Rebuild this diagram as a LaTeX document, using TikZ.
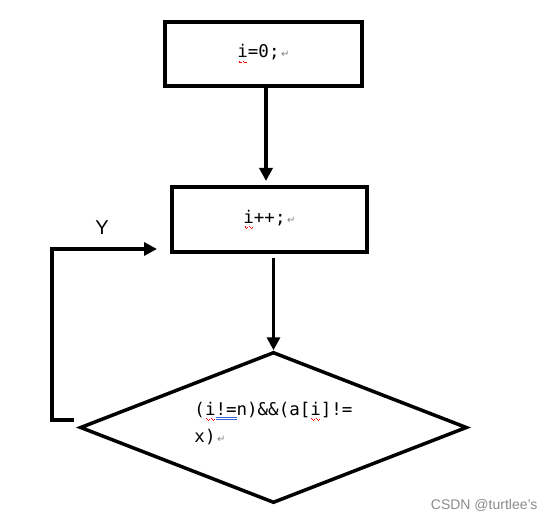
\documentclass[tikz,border=0pt]{standalone}
\usepackage{fontspec}
\setmainfont{Liberation Sans}
\newfontfamily\codefont{DejaVu Sans Mono}
\newfontfamily\retfont{DejaVu Sans}
\usetikzlibrary{arrows.meta,shapes.geometric}
\newcommand{\retmark}{{\retfont\fontsize{10}{10}\selectfont\color[gray]{0.5}\,↵}}
\newcommand{\wavepiece}{\hbox{\rule[0.9pt]{0.9pt}{0.9pt}\rule[0pt]{0.9pt}{0.9pt}\rule[-0.9pt]{0.9pt}{0.9pt}\rule[0pt]{0.9pt}{0.9pt}}}
\newcommand{\redwave}[1]{\setbox0=\hbox{#1}\rlap{\copy0}\hbox to\wd0{\color{red}\lower4.5pt\hbox to\wd0{\xleaders\wavepiece\hfil}}}
\newcommand{\bluedbl}[1]{\setbox0=\hbox{#1}\rlap{\copy0}\hbox to\wd0{\color[RGB]{50,100,210}\lower4pt\vbox{\hrule width\wd0 height0.7pt\kern1.3pt\hrule width\wd0 height0.7pt}}}
\begin{document}
\begin{tikzpicture}[x=1pt,y=-1pt,
  stepbox/.style={draw,line width=4pt,rectangle,inner sep=0pt},
  decision/.style={draw,line width=3.5pt,diamond,aspect=2.56,inner sep=0pt},
  flow/.style={line width=3.5pt,-{Triangle[length=13pt,width=13pt]}},
  codetext/.style={font=\codefont\fontsize{17.5}{27}\selectfont}]
\useasboundingbox (0,0) rectangle (556,521);
\fill[white] (0,0) rectangle (556,521);
\node[stepbox,minimum width=197pt,minimum height=64pt,codetext] (box1) at (263.5,54) {\redwave{i}=0;\retmark};
\node[stepbox,minimum width=195pt,minimum height=65pt,codetext] (box2) at (269.5,219.5) {\redwave{i}++;\retmark};
\node[decision,minimum width=387pt,minimum height=151pt,codetext,align=left] (dia) at (273.5,427.5) {(\redwave{i}\bluedbl{!=}n)\&\&(a[\redwave{i}]!=\\x)\retmark\rule[-10pt]{0pt}{1pt}};
\draw[flow,shorten >=4pt] ([xshift=2.5pt]box1.south) -- ([xshift=2.5pt]box1.south |- box2.north);
\draw[flow] ([yshift=-4pt]box2.south -| dia.north) -- (dia.north);
\coordinate (fb0) at (74,420);
\coordinate (fb1) at (52,420);
\coordinate (fb2) at (52,249);
\coordinate (fbend) at (157,249);
\draw[flow] (fb0) -- (fb1) -- (fb2) -- (fbend);
\node[font=\fontsize{20}{20}\selectfont] (ylab) at (102,228) {Y};
\node[font=\fontsize{14}{14}\selectfont,text=black!45,anchor=east] (wm) at (541,505) {CSDN @turtlee's};
\end{tikzpicture}
\end{document}
